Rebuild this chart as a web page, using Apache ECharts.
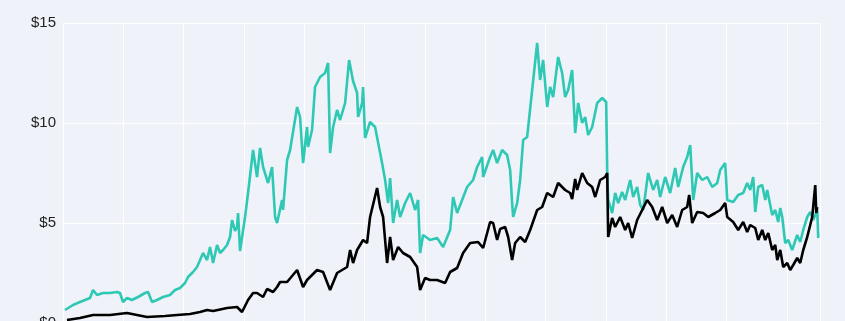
<!DOCTYPE html>
<html>
<head>
<meta charset="utf-8">
<script src="https://cdn.jsdelivr.net/npm/echarts@6/dist/echarts.min.js"></script>
<style>
html,body{margin:0;padding:0;background:#eff3f9;}
#chart{width:845px;height:321px;}
</style>
</head>
<body>
<div id="chart"></div>
<script>
// [years since axis start, price in $]
var yTicks = [0, 5, 10, 15];

var tealData = [
[0.033,0.65],[0.166,0.9],[0.282,1.05],[0.365,1.15],[0.448,1.25],[0.498,1.65],[0.564,1.4],[0.663,1.5],[0.779,1.5],[0.896,1.55],
[0.945,1.5],[0.995,1.05],[1.061,1.25],[1.144,1.15],[1.244,1.3],[1.360,1.5],[1.410,1.55],[1.476,1.05],[1.559,1.15],[1.658,1.3],
[1.774,1.4],[1.857,1.65],[1.940,1.75],[2.023,2.0],[2.073,2.3],[2.156,2.55],[2.222,2.8],[2.272,3.15],[2.322,3.5],[2.388,3.15],
[2.438,3.8],[2.488,3.0],[2.554,3.9],[2.604,3.5],[2.653,3.65],[2.720,3.9],[2.769,4.3],[2.803,5.15],[2.852,4.6],[2.886,4.8],
[2.902,5.5],[2.935,3.6],[3.018,5.3],[3.068,6.5],[3.151,8.65],[3.217,7.3],[3.267,8.75],[3.317,7.8],[3.400,7.0],[3.466,7.8],
[3.516,5.3],[3.549,5.0],[3.632,6.15],[3.648,5.65],[3.715,8.15],[3.765,8.65],[3.881,10.8],[3.930,10.3],[3.980,8.0],[4.046,9.8],
[4.063,8.8],[4.129,9.65],[4.179,11.8],[4.262,12.3],[4.345,12.5],[4.395,13.0],[4.428,8.5],[4.478,9.8],[4.544,10.65],[4.594,10.15],
[4.677,11.0],[4.743,13.15],[4.809,12.1],[4.876,11.5],[4.892,10.3],[4.959,11.0],[4.975,11.8],[5.008,9.25],[5.091,10.05],[5.174,9.8],
[5.290,8.0],[5.340,7.15],[5.390,6.0],[5.423,7.25],[5.473,5.0],[5.539,6.15],[5.589,5.3],[5.672,6.0],[5.755,6.5],[5.837,5.65],
[5.887,6.15],[5.920,3.5],[5.970,4.4],[6.086,4.15],[6.202,4.25],[6.302,3.8],[6.418,4.65],[6.468,6.3],[6.534,5.5],[6.617,6.15],
[6.700,6.8],[6.799,7.15],[6.866,7.8],[6.949,8.3],[6.965,7.3],[7.081,8.3],[7.131,8.65],[7.197,8.0],[7.280,8.65],[7.363,8.4],
[7.413,7.65],[7.446,6.0],[7.463,5.3],[7.529,6.0],[7.579,7.15],[7.629,9.15],[7.695,9.3],[7.778,11.65],[7.861,14.0],[7.910,12.15],
[7.960,13.15],[8.027,10.8],[8.076,11.8],[8.126,11.3],[8.209,13.3],[8.275,12.5],[8.325,11.3],[8.375,11.65],[8.441,12.65],[8.491,9.5],
[8.541,11.0],[8.607,10.0],[8.657,10.3],[8.706,9.4],[8.773,9.8],[8.856,11.0],[8.939,11.25],[9.005,11.05],[9.022,7.65],[9.038,6.15],
[9.104,5.5],[9.154,6.5],[9.204,6.0],[9.270,6.55],[9.320,6.15],[9.403,7.15],[9.453,6.3],[9.519,6.8],[9.569,5.9],[9.619,5.65],
[9.701,7.5],[9.784,6.65],[9.851,7.15],[9.900,6.3],[9.983,7.3],[10.066,6.5],[10.149,7.75],[10.199,6.8],[10.282,7.8],[10.348,8.3],
[10.398,8.9],[10.448,6.15],[10.514,7.5],[10.597,7.15],[10.680,7.3],[10.763,6.8],[10.846,7.0],[10.896,7.65],[10.978,8.0],[11.012,6.15],
[11.111,6.05],[11.194,6.4],[11.277,6.5],[11.343,7.0],[11.393,6.65],[11.443,7.3],[11.476,5.55],[11.526,6.8],[11.592,6.9],[11.642,6.15],
[11.675,6.65],[11.758,5.4],[11.808,5.65],[11.857,5.05],[11.891,5.75],[11.924,5.3],[11.973,4.0],[12.023,4.15],[12.089,3.65],[12.172,4.4],
[12.222,4.05],[12.272,4.65],[12.338,5.3],[12.388,5.55],[12.438,5.15],[12.504,5.65],[12.521,4.25]
];

var blackData = [
[0.066,0.15],[0.282,0.25],[0.498,0.4],[0.779,0.4],[1.061,0.5],[1.393,0.3],[1.692,0.35],[1.891,0.4],[2.106,0.45],[2.272,0.55],
[2.388,0.65],[2.488,0.6],[2.720,0.75],[2.886,0.8],[2.968,0.55],[3.068,1.15],[3.151,1.5],[3.217,1.5],[3.317,1.3],[3.383,1.7],
[3.483,1.55],[3.549,1.8],[3.599,2.05],[3.715,2.05],[3.881,2.65],[3.980,1.8],[4.046,2.15],[4.212,2.65],[4.312,2.55],[4.428,1.65],
[4.544,2.5],[4.710,2.8],[4.760,3.65],[4.809,3.0],[4.876,3.65],[4.975,4.15],[5.041,4.0],[5.091,5.3],[5.207,6.75],[5.257,5.8],
[5.307,5.3],[5.373,3.0],[5.423,4.3],[5.473,3.15],[5.556,3.8],[5.638,3.5],[5.755,3.3],[5.871,2.8],[5.920,1.65],[6.003,2.25],
[6.086,2.15],[6.202,2.15],[6.335,2.0],[6.418,2.55],[6.534,2.75],[6.633,3.5],[6.750,4.0],[6.882,4.05],[6.965,3.75],[7.081,5.05],
[7.131,5.0],[7.197,4.15],[7.247,4.7],[7.330,4.8],[7.380,4.3],[7.446,3.15],[7.496,4.0],[7.579,4.3],[7.662,4.05],[7.745,4.65],
[7.861,5.65],[7.944,5.8],[8.027,6.5],[8.126,6.3],[8.209,7.0],[8.325,6.65],[8.408,6.5],[8.441,6.2],[8.491,7.2],[8.524,6.65],
[8.607,7.5],[8.690,7.0],[8.773,6.8],[8.823,6.3],[8.905,7.15],[8.988,7.3],[9.022,7.5],[9.038,4.3],[9.104,5.25],[9.154,4.8],
[9.237,5.3],[9.320,4.65],[9.370,5.0],[9.436,4.25],[9.519,5.15],[9.602,5.65],[9.685,6.15],[9.768,5.8],[9.851,5.15],[9.934,5.8],
[10.017,5.0],[10.100,5.4],[10.182,4.8],[10.265,5.65],[10.348,5.8],[10.381,6.4],[10.431,5.0],[10.514,5.55],[10.614,5.5],[10.697,5.3],
[10.813,5.5],[10.896,5.65],[10.978,6.0],[11.012,5.3],[11.111,5.05],[11.194,4.65],[11.277,5.05],[11.343,4.55],[11.393,4.9],[11.476,4.75],
[11.526,4.15],[11.592,4.65],[11.642,4.15],[11.692,4.5],[11.758,3.65],[11.808,3.9],[11.841,3.15],[11.891,3.65],[11.940,2.8],[12.007,3.0],
[12.056,2.65],[12.106,2.9],[12.172,3.25],[12.222,3.0],[12.272,3.65],[12.338,4.3],[12.421,5.3],[12.471,6.9],[12.488,5.5],[12.504,5.8]
];

var chart = echarts.init(document.getElementById('chart'), null, {renderer:'canvas'});
chart.setOption({
  backgroundColor: '#eff3f9',
  animation: false,
  grid: {left: 63, right: 25, top: 23, height: 300, containLabel: false, outerBoundsMode: 'none'},
  xAxis: {
    type: 'value', min: 0, max: 12.55, interval: 1,
    axisLine: {show: false}, axisTick: {show: false}, axisLabel: {show: false},
    splitLine: {show: true, lineStyle: {color: '#ffffff', width: 1}}
  },
  yAxis: {
    type: 'value', min: yTicks[0], max: yTicks[yTicks.length-1], interval: 5,
    axisLine: {show: false}, axisTick: {show: false},
    axisLabel: {margin: 7, color: '#222222', fontSize: 15, fontFamily: 'Liberation Sans, Arial, sans-serif',
      formatter: function(v){ return '$' + v; }},
    splitLine: {show: true, lineStyle: {color: '#ffffff', width: 1}}
  },
  series: [
    {type: 'line', data: tealData, showSymbol: false, symbol: 'none',
     lineStyle: {color: '#2ec8b5', width: 2.6}, z: 2},
    {type: 'line', data: blackData, showSymbol: false, symbol: 'none',
     lineStyle: {color: '#000000', width: 2.6}, z: 3}
  ]
});
</script>
</body>
</html>
